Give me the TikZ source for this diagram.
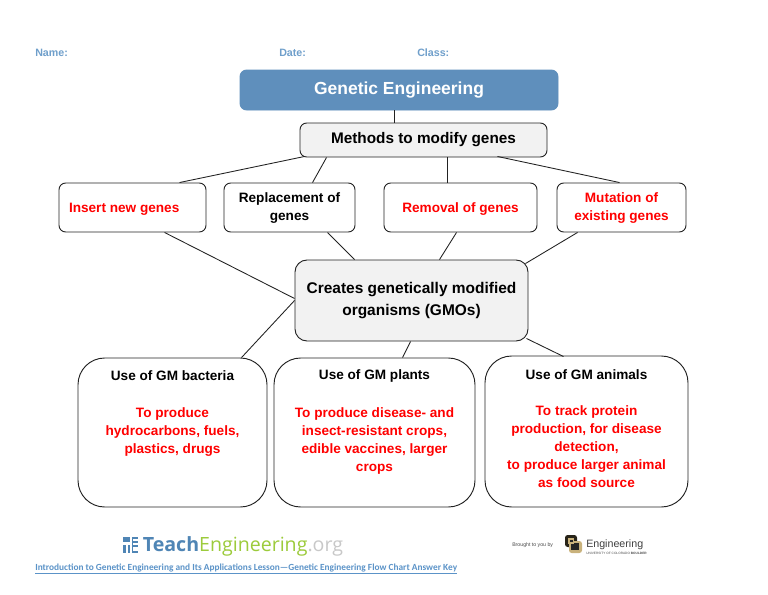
\documentclass[tikz,border=0pt]{standalone}
\usepackage{fontspec}
\setmainfont{Liberation Sans}
\newfontfamily\logofont{Open Sans}
\newfontfamily\linkfont{Carlito}
\usetikzlibrary{calc}
\definecolor{titleblue}{HTML}{5F8FBC}
\definecolor{hdrblue}{HTML}{6F9FCB}
\definecolor{linkblue}{HTML}{5B93C8}
\definecolor{boxgrey}{HTML}{F2F2F2}
\definecolor{lineblk}{HTML}{222222}
\definecolor{logogreen}{HTML}{9CCB3B}
\definecolor{logoblue}{HTML}{4F85B5}
\definecolor{logogrey}{HTML}{C8C8C8}
\definecolor{cugold}{HTML}{C9B27C}
\tikzset{
  x=0.75pt,y=-0.75pt,
  box/.style={draw=lineblk,line width=0.7pt,rounded corners=5pt,fill=white,inner sep=0pt},
  greybox/.style={box,fill=boxgrey},
  bigbox/.style={box,rounded corners=20pt},
  link/.style={draw=lineblk,line width=0.65pt},
  red label/.style={text=red,font=\bfseries\fontsize{10.2}{13.5}\selectfont,align=center,inner sep=0pt},
  black label/.style={text=black,font=\bfseries\fontsize{10.2}{13.5}\selectfont,align=center,inner sep=0pt},
  head label/.style={text=hdrblue,font=\bfseries\fontsize{8}{9}\selectfont,inner sep=0pt,anchor=west},
}
\newcommand{\sized}[6]{\node[#1,minimum width=#4*0.75pt,minimum height=#5*0.75pt] (#2) at (#3) {#6};}
\newcommand{\nudge}[1]{\raisebox{-0.75pt}{\begin{tabular}{@{}c@{}}#1\end{tabular}}}
\begin{document}
\begin{tikzpicture}
\useasboundingbox (0,0) rectangle (768,594);
\fill[white] (0,0) rectangle (768,594);
% header
\node[head label] (name) at (35,53) {Name:};
\node[head label] (date) at (279,53) {Date:};
\node[head label] (class) at (417,53) {Class:};
% boxes
\sized{box,draw=titleblue,fill=titleblue,text=white,font=\bfseries\fontsize{13.1}{15}\selectfont}{title}{399,90}{318}{40}{Genetic Engineering}
\sized{greybox,font=\bfseries\fontsize{11.5}{14}\selectfont}{methods}{423.5,140}{247}{34}{Methods to modify genes}
\sized{box,red label}{insert}{132.5,207.5}{147}{49}{\raisebox{0pt}[7pt][0pt]{\makebox[95.25pt][l]{Insert new genes}}}
\sized{box,black label}{repl}{289.5,207.5}{131}{49}{\nudge{Replacement of\\genes}}
\sized{box,red label}{removal}{460.5,207.5}{153}{49}{\raisebox{0pt}[7pt][0pt]{Removal of genes}}
\sized{box,red label}{mutation}{621.5,207.5}{129}{49}{\nudge{Mutation of\\existing genes}}
\sized{greybox,rounded corners=9pt,font=\bfseries\fontsize{11.6}{16.5}\selectfont,align=center}{gmo}{411.5,300.5}{233}{81}{Creates genetically modified\\organisms (GMOs)}
\sized{bigbox}{bact}{172.5,432.5}{189}{149}{}
\sized{bigbox}{plants}{374.5,432.5}{201}{149}{}
\sized{bigbox}{animals}{586.5,431.5}{203}{151}{}
% box texts
\node[black label] (bacthead) at (172.5,376) {Use of GM bacteria};
\node[red label] (bacttext) at (172.5,432) {To produce\\hydrocarbons, fuels,\\plastics, drugs};
\node[black label] (planthead) at (374.5,376) {Use of GM plants};
\node[red label] (planttext) at (374.5,441) {To produce disease- and\\insect-resistant crops,\\edible vaccines, larger\\crops};
\node[black label] (animhead) at (586.5,375) {Use of GM animals};
\node[red label] (animtext) at (586.5,447) {To track protein\\production, for disease\\detection,\\to produce larger animal\\as food source};
% connectors
\draw[link] ($(title.south west)+(155,0)$) -- ($(methods.north west)+(95,0)$);
\draw[link] ($(methods.south west)+(5,-1)$) -- ($(insert.north west)+(121,0)$);
\draw[link] ($(methods.south west)+(27,0)$) -- ($(repl.north west)+(89,0)$);
\draw[link] ($(methods.south west)+(148,0)$) -- ($(removal.north west)+(64,0)$);
\draw[link] ($(methods.south east)+(-50,-1)$) -- ($(mutation.north west)+(63,0)$);
\draw[link] ($(insert.south west)+(106,0)$) -- ($(gmo.west)+(0,-2)$);
\draw[link] ($(repl.south west)+(104,0)$) -- ($(gmo.north west)+(60,0)$);
\draw[link] ($(removal.south west)+(73,0)$) -- ($(gmo.north west)+(145,0)$);
\draw[link] ($(mutation.south west)+(21,0)$) -- ($(gmo.north east)+(-3,4)$);
\draw[link] ($(gmo.west)+(0,0)$) -- ($(bact.north west)+(164,0)$);
\draw[link] ($(gmo.south west)+(116,0)$) -- ($(plants.north west)+(129,0)$);
\draw[link] ($(gmo.south east)+(-2,-3)$) -- ($(animals.north west)+(79,1)$);
% footer logo
\fill[logoblue] (123,537) rectangle (130,542);
\fill[logoblue] (123,545) rectangle (125.5,553);
\fill[logoblue] (127.5,545) rectangle (130,553);
\fill[logoblue] (132,537) rectangle (137.5,539);
\fill[logoblue] (133,541) rectangle (137.5,543);
\fill[logoblue] (133,545) rectangle (137.5,547);
\fill[logoblue] (131.5,537) rectangle (133,553);
\fill[logoblue] (131.5,551) rectangle (137.5,553);
\node[inner sep=0pt,anchor=west,font=\logofont\bfseries\fontsize{14.7}{18}\selectfont] (logo) at (142.5,546)
  {\textcolor{logoblue}{Teach}\textcolor{logogreen}{\mdseries Engineering}\textcolor{logogrey}{\mdseries .org}};
\node[inner sep=0pt,anchor=west,text=linkblue,font=\linkfont\bfseries\fontsize{7}{8}\selectfont] (lesson) at (35,569)
  {\underline{Introduction to Genetic Engineering and Its Applications Lesson—Genetic Engineering Flow Chart Answer Key}};
\node[inner sep=0pt,anchor=west,text=black!70,font=\fontsize{3.9}{5}\selectfont] (brought) at (512,545) {Brought to you by};
\fill[black!80!cugold,rounded corners=2pt] (565,535) rectangle (577,547);
\fill[cugold,rounded corners=2pt] (569,541) rectangle (582,553);
\fill[black!85] (571,543) rectangle (579,550);
\fill[cugold] (567.5,537.5) rectangle (574,544);
\fill[black!85] (569.5,539.5) rectangle (572.5,542);
\node[inner sep=0pt,anchor=west,text=black!75,font=\fontsize{8}{11}\selectfont] (cueng) at (586,544.5) {Engineering};
\node[inner sep=0pt,anchor=west,text=black!70,font=\fontsize{2.4}{3}\selectfont] (cuname) at (586,553) {UNIVERSITY OF COLORADO \textbf{BOULDER}};
\end{tikzpicture}
\end{document}
